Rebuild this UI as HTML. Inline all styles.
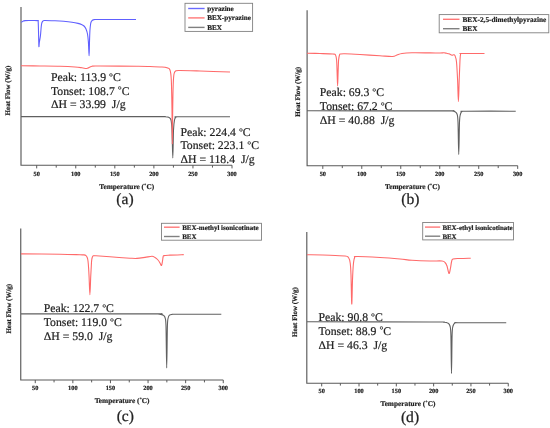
<!DOCTYPE html>
<html><head><meta charset="utf-8"><title>DSC curves</title>
<style>
html,body{margin:0;padding:0;background:#fff;}
body{width:550px;height:428px;overflow:hidden;}
svg{display:block;}
text{font-family:"Liberation Serif",serif;fill:#222;text-rendering:geometricPrecision;}
.tl{font-size:6.3px;font-weight:bold;stroke:#222;stroke-width:0.2px;text-anchor:middle;}
.at{font-size:7.3px;font-weight:bold;stroke:#222;stroke-width:0.2px;text-anchor:middle;}
.hf{font-size:7.0px;}
.dg{font-size:9.8px;}
.lb{font-size:15.6px;text-anchor:middle;stroke:#222;stroke-width:0.25px;}
.lg{font-size:7.2px;font-weight:bold;stroke:#222;stroke-width:0.2px;}
.an{font-size:11.75px;white-space:pre;stroke:#222;stroke-width:0.2px;}
</style></head>
<body>
<svg width="550" height="428" viewBox="0 0 550 428">
<rect width="550" height="428" fill="#fff"/>
<path d="M21,7 L21,165.2 L232.00,165.2" fill="none" stroke="#5a5a5a" stroke-width="1.15"/>
<path d="M36.70,165.2 L36.70,168.40 M56.23,165.2 L56.23,167.60 M75.76,165.2 L75.76,168.40 M95.29,165.2 L95.29,167.60 M114.82,165.2 L114.82,168.40 M134.35,165.2 L134.35,167.60 M153.88,165.2 L153.88,168.40 M173.41,165.2 L173.41,167.60 M192.94,165.2 L192.94,168.40 M212.47,165.2 L212.47,167.60 M232.00,165.2 L232.00,168.40" stroke="#5a5a5a" stroke-width="1"/>
<text x="36.70" y="175.6" class="tl">50</text>
<text x="75.76" y="175.6" class="tl">100</text>
<text x="114.82" y="175.6" class="tl">150</text>
<text x="153.88" y="175.6" class="tl">200</text>
<text x="192.94" y="175.6" class="tl">250</text>
<text x="232.00" y="175.6" class="tl">300</text>
<text x="126.7" y="189" class="at">Temperature (˚C)</text>
<text transform="translate(10.4,90.5) rotate(-90)" class="at hf">Heat Flow (W/g)</text>
<text x="125" y="204.3" class="lb">(a)</text>
<path d="M21.30,22.40 C21.58,22.20 22.38,21.50 23.00,21.20 C23.62,20.90 23.83,20.72 25.00,20.60 C26.17,20.48 27.90,20.50 30.00,20.50 C32.10,20.50 36.23,20.35 37.60,20.60 C38.97,20.85 38.03,19.60 38.20,22.00 C38.37,24.40 38.48,30.93 38.60,35.00 C38.72,39.07 38.77,45.23 38.90,46.40 C39.03,47.57 39.15,43.73 39.40,42.00 C39.65,40.27 40.10,38.50 40.40,36.00 C40.70,33.50 40.97,29.17 41.20,27.00 C41.43,24.83 41.50,24.00 41.80,23.00 C42.10,22.00 42.55,21.42 43.00,21.00 C43.45,20.58 42.50,20.53 44.50,20.50 C46.50,20.47 51.82,20.67 55.00,20.80 C58.18,20.93 60.77,21.07 63.60,21.30 C66.43,21.53 69.60,21.85 72.00,22.20 C74.40,22.55 76.33,22.97 78.00,23.40 C79.67,23.83 81.00,24.37 82.00,24.80 C83.00,25.23 83.33,25.30 84.00,26.00 C84.67,26.70 85.42,27.67 86.00,29.00 C86.58,30.33 87.10,31.83 87.50,34.00 C87.90,36.17 88.13,38.37 88.40,42.00 C88.67,45.63 88.92,55.80 89.10,55.80 C89.28,55.80 89.37,46.13 89.50,42.00 C89.63,37.87 89.72,34.00 89.90,31.00 C90.08,28.00 90.37,25.57 90.60,24.00 C90.83,22.43 90.98,22.23 91.30,21.60 C91.62,20.97 92.02,20.53 92.50,20.20 C92.98,19.87 92.95,19.72 94.20,19.60 C95.45,19.48 93.03,19.52 100.00,19.50 C106.97,19.48 130.00,19.50 136.00,19.50" fill="none" stroke="#6060ff" stroke-width="1.1" stroke-linejoin="round"/>
<path d="M21.00,116.60 C42.50,116.60 126.00,116.58 150.00,116.60 C174.00,116.62 161.83,116.55 165.00,116.70 C168.17,116.85 168.00,116.95 169.00,117.50 C170.00,118.05 170.50,117.92 171.00,120.00 C171.50,122.08 171.70,123.67 172.00,130.00 C172.30,136.33 172.55,158.00 172.80,158.00 C173.05,158.00 173.22,136.33 173.50,130.00 C173.78,123.67 174.08,122.12 174.50,120.00 C174.92,117.88 175.08,117.83 176.00,117.30 C176.92,116.77 171.00,116.88 180.00,116.80 C189.00,116.72 221.67,116.80 230.00,116.80" fill="none" stroke="#606060" stroke-width="1.1" stroke-linejoin="round"/>
<path d="M21.00,65.80 C24.17,65.83 33.50,65.92 40.00,66.00 C46.50,66.08 54.17,66.13 60.00,66.30 C65.83,66.47 71.33,66.75 75.00,67.00 C78.67,67.25 80.17,67.55 82.00,67.80 C83.83,68.05 85.00,68.47 86.00,68.50 C87.00,68.53 87.00,68.38 88.00,68.00 C89.00,67.62 90.00,66.53 92.00,66.20 C94.00,65.87 92.50,65.98 100.00,66.00 C107.50,66.02 128.67,66.22 137.00,66.30 C145.33,66.38 145.83,66.38 150.00,66.50 C154.17,66.62 159.17,66.78 162.00,67.00 C164.83,67.22 165.67,67.30 167.00,67.80 C168.33,68.30 169.28,67.97 170.00,70.00 C170.72,72.03 170.97,73.33 171.30,80.00 C171.63,86.67 171.83,99.33 172.00,110.00 C172.17,120.67 172.18,144.00 172.30,144.00 C172.42,144.00 172.55,119.83 172.70,110.00 C172.85,100.17 172.98,91.00 173.20,85.00 C173.42,79.00 173.58,76.33 174.00,74.00 C174.42,71.67 174.70,71.58 175.70,71.00 C176.70,70.42 175.95,70.50 180.00,70.50 C184.05,70.50 191.67,70.75 200.00,71.00 C208.33,71.25 225.00,71.83 230.00,72.00" fill="none" stroke="#ff6a6a" stroke-width="1.1" stroke-linejoin="round"/>
<rect x="185" y="3.3" width="67.60" height="28.10" fill="#fff" stroke="#808080" stroke-width="0.9"/>
<line x1="188.2" y1="8.5" x2="204.6" y2="8.5" stroke="#6a6aff" stroke-width="1.4"/>
<text x="207.2" y="10.90" class="lg" style="font-size:7.15px">pyrazine</text>
<line x1="188.2" y1="17.9" x2="204.6" y2="17.9" stroke="#ff7878" stroke-width="1.4"/>
<text x="207.2" y="20.30" class="lg" style="font-size:7.15px">BEX-pyrazine</text>
<line x1="188.2" y1="27.4" x2="204.6" y2="27.4" stroke="#808080" stroke-width="1.4"/>
<text x="207.2" y="29.80" class="lg" style="font-size:7.15px">BEX</text>
<text x="51.0" y="80.80" class="an">Peak: 113.9 <tspan class="dg" dy="-1.2">°</tspan><tspan dy="1.2">C</tspan></text>
<text x="51.0" y="94.50" class="an">Tonset: 108.7 <tspan class="dg" dy="-1.2">°</tspan><tspan dy="1.2">C</tspan></text>
<text x="51.0" y="108.20" class="an">ΔH = 33.99  J/g</text>
<text x="180.5" y="135.70" class="an">Peak: 224.4 <tspan class="dg" dy="-1.2">°</tspan><tspan dy="1.2">C</tspan></text>
<text x="180.5" y="149.40" class="an">Tonset: 223.1 <tspan class="dg" dy="-1.2">°</tspan><tspan dy="1.2">C</tspan></text>
<text x="180.5" y="163.10" class="an">ΔH = 118.4  J/g</text>
<path d="M307.1,10.2 L307.1,165.7 L517.70,165.7" fill="none" stroke="#5a5a5a" stroke-width="1.15"/>
<path d="M322.80,165.7 L322.80,168.90 M342.29,165.7 L342.29,168.10 M361.78,165.7 L361.78,168.90 M381.27,165.7 L381.27,168.10 M400.76,165.7 L400.76,168.90 M420.25,165.7 L420.25,168.10 M439.74,165.7 L439.74,168.90 M459.23,165.7 L459.23,168.10 M478.72,165.7 L478.72,168.90 M498.21,165.7 L498.21,168.10 M517.70,165.7 L517.70,168.90" stroke="#5a5a5a" stroke-width="1"/>
<text x="322.80" y="175.7" class="tl">50</text>
<text x="361.78" y="175.7" class="tl">100</text>
<text x="400.76" y="175.7" class="tl">150</text>
<text x="439.74" y="175.7" class="tl">200</text>
<text x="478.72" y="175.7" class="tl">250</text>
<text x="517.70" y="175.7" class="tl">300</text>
<text x="412.5" y="189" class="at">Temperature (˚C)</text>
<text transform="translate(299.5,91.8) rotate(-90)" class="at hf">Heat Flow (W/g)</text>
<text x="410.3" y="204" class="lb">(b)</text>
<path d="M307.00,110.80 C329.17,110.82 415.83,110.87 440.00,110.90 C464.17,110.93 449.50,110.85 452.00,111.00 C454.50,111.15 454.17,111.30 455.00,111.80 C455.83,112.30 456.50,112.30 457.00,114.00 C457.50,115.70 457.71,115.25 458.00,122.00 C458.29,128.75 458.50,154.50 458.75,154.50 C459.00,154.50 459.21,128.75 459.50,122.00 C459.79,115.25 460.08,115.73 460.50,114.00 C460.92,112.27 461.08,112.07 462.00,111.60 C462.92,111.13 457.04,111.27 466.00,111.20 C474.96,111.13 507.46,111.20 515.75,111.20" fill="none" stroke="#606060" stroke-width="1.1" stroke-linejoin="round"/>
<path d="M307.00,53.20 C309.17,53.25 315.67,53.37 320.00,53.50 C324.33,53.63 330.42,53.75 333.00,54.00 C335.58,54.25 334.90,54.00 335.50,55.00 C336.10,56.00 336.33,57.17 336.60,60.00 C336.87,62.83 336.93,67.67 337.10,72.00 C337.27,76.33 337.43,86.00 337.60,86.00 C337.77,86.00 337.93,76.33 338.10,72.00 C338.27,67.67 338.37,62.83 338.60,60.00 C338.83,57.17 339.18,56.00 339.50,55.00 C339.82,54.00 339.58,54.20 340.50,54.00 C341.42,53.80 341.75,53.72 345.00,53.80 C348.25,53.88 354.17,54.17 360.00,54.50 C365.83,54.83 374.58,55.47 380.00,55.80 C385.42,56.13 389.67,56.63 392.50,56.50 C395.33,56.37 395.42,55.50 397.00,55.00 C398.58,54.50 399.50,53.87 402.00,53.50 C404.50,53.13 407.33,52.90 412.00,52.80 C416.67,52.70 425.33,52.87 430.00,52.90 C434.67,52.93 437.67,53.02 440.00,53.00 C442.33,52.98 442.90,52.75 444.00,52.80 C445.10,52.85 445.77,53.13 446.60,53.30 C447.43,53.47 448.10,53.48 449.00,53.80 C449.90,54.12 451.25,55.03 452.00,55.20 C452.75,55.37 453.00,54.73 453.50,54.80 C454.00,54.87 454.50,54.40 455.00,55.60 C455.50,56.80 456.07,57.93 456.50,62.00 C456.93,66.07 457.28,73.38 457.60,80.00 C457.92,86.62 458.13,101.70 458.40,101.70 C458.67,101.70 458.93,86.95 459.20,80.00 C459.47,73.05 459.77,64.30 460.00,60.00 C460.23,55.70 460.27,55.28 460.60,54.20 C460.93,53.12 458.02,53.62 462.00,53.50 C465.98,53.38 480.75,53.50 484.50,53.50" fill="none" stroke="#ff6a6a" stroke-width="1.1" stroke-linejoin="round"/>
<rect x="439.2" y="14.6" width="109.60" height="18.20" fill="#fff" stroke="#808080" stroke-width="0.9"/>
<line x1="443" y1="19.3" x2="459.5" y2="19.3" stroke="#ff7878" stroke-width="1.4"/>
<text x="462.5" y="21.70" class="lg" style="font-size:7.3px">BEX-2,5-dimethylpyrazine</text>
<line x1="443" y1="28.7" x2="459.5" y2="28.7" stroke="#808080" stroke-width="1.4"/>
<text x="462.5" y="31.10" class="lg" style="font-size:7.3px">BEX</text>
<text x="319.8" y="96.20" class="an">Peak: 69.3 <tspan class="dg" dy="-1.2">°</tspan><tspan dy="1.2">C</tspan></text>
<text x="319.8" y="110.20" class="an">Tonset: 67.2 <tspan class="dg" dy="-1.2">°</tspan><tspan dy="1.2">C</tspan></text>
<text x="319.8" y="124.20" class="an">ΔH = 40.88  J/g</text>
<path d="M20.75,228.5 L20.75,380 L223.25,380" fill="none" stroke="#5a5a5a" stroke-width="1.15"/>
<path d="M35.25,380 L35.25,383.20 M54.05,380 L54.05,382.40 M72.85,380 L72.85,383.20 M91.65,380 L91.65,382.40 M110.45,380 L110.45,383.20 M129.25,380 L129.25,382.40 M148.05,380 L148.05,383.20 M166.85,380 L166.85,382.40 M185.65,380 L185.65,383.20 M204.45,380 L204.45,382.40 M223.25,380 L223.25,383.20" stroke="#5a5a5a" stroke-width="1"/>
<text x="35.25" y="390.0" class="tl">50</text>
<text x="72.85" y="390.0" class="tl">100</text>
<text x="110.45" y="390.0" class="tl">150</text>
<text x="148.05" y="390.0" class="tl">200</text>
<text x="185.65" y="390.0" class="tl">250</text>
<text x="223.25" y="390.0" class="tl">300</text>
<text x="122.1" y="403.2" class="at">Temperature (˚C)</text>
<text transform="translate(10.6,308.7) rotate(-90)" class="at hf">Heat Flow (W/g)</text>
<text x="125.3" y="421" class="lb">(c)</text>
<path d="M21.00,313.90 C42.50,313.90 127.17,313.88 150.00,313.90 C172.83,313.92 156.17,313.92 158.00,314.00 C159.83,314.08 160.08,314.17 161.00,314.40 C161.92,314.63 162.83,314.88 163.50,315.40 C164.17,315.92 164.58,315.73 165.00,317.50 C165.42,319.27 165.72,317.58 166.00,326.00 C166.28,334.42 166.47,368.00 166.70,368.00 C166.93,368.00 167.13,334.42 167.40,326.00 C167.67,317.58 167.90,319.33 168.30,317.50 C168.70,315.67 169.18,315.52 169.80,315.00 C170.42,314.48 170.30,314.53 172.00,314.40 C173.70,314.27 171.78,314.23 180.00,314.20 C188.22,314.17 214.42,314.20 221.30,314.20" fill="none" stroke="#606060" stroke-width="1.1" stroke-linejoin="round"/>
<path d="M21.00,253.90 C27.50,253.95 50.17,254.05 60.00,254.20 C69.83,254.35 76.00,254.68 80.00,254.80 C84.00,254.92 83.00,254.75 84.00,254.90 C85.00,255.05 85.45,255.22 86.00,255.70 C86.55,256.18 86.97,256.92 87.30,257.80 C87.63,258.68 87.78,259.30 88.00,261.00 C88.22,262.70 88.42,265.33 88.60,268.00 C88.78,270.67 88.88,272.55 89.10,277.00 C89.32,281.45 89.63,294.70 89.90,294.70 C90.17,294.70 90.48,281.45 90.70,277.00 C90.92,272.55 91.05,270.67 91.20,268.00 C91.35,265.33 91.42,262.80 91.60,261.00 C91.78,259.20 91.98,258.07 92.30,257.20 C92.62,256.33 92.88,256.03 93.50,255.80 C94.12,255.57 93.25,255.63 96.00,255.80 C98.75,255.97 104.33,256.40 110.00,256.80 C115.67,257.20 125.50,257.93 130.00,258.20 C134.50,258.47 134.50,258.53 137.00,258.40 C139.50,258.27 142.50,257.75 145.00,257.40 C147.50,257.05 150.33,256.28 152.00,256.30 C153.67,256.32 154.00,256.88 155.00,257.50 C156.00,258.12 157.17,259.08 158.00,260.00 C158.83,260.92 159.42,262.08 160.00,263.00 C160.58,263.92 161.08,265.83 161.50,265.50 C161.92,265.17 162.23,262.42 162.50,261.00 C162.77,259.58 162.85,257.90 163.10,257.00 C163.35,256.10 162.85,255.92 164.00,255.60 C165.15,255.28 166.71,255.27 170.00,255.10 C173.29,254.93 181.46,254.68 183.75,254.60" fill="none" stroke="#ff6a6a" stroke-width="1.1" stroke-linejoin="round"/>
<rect x="161.5" y="223.3" width="100.00" height="16.90" fill="#fff" stroke="#808080" stroke-width="0.9"/>
<line x1="164" y1="227.2" x2="179.6" y2="227.2" stroke="#ff7878" stroke-width="1.4"/>
<text x="182.2" y="229.60" class="lg" style="font-size:6.98px">BEX-methyl isonicotinate</text>
<line x1="164" y1="236.5" x2="179.6" y2="236.5" stroke="#808080" stroke-width="1.4"/>
<text x="182.2" y="238.90" class="lg" style="font-size:6.98px">BEX</text>
<text x="43.75" y="312.30" class="an">Peak: 122.7 <tspan class="dg" dy="-1.2">°</tspan><tspan dy="1.2">C</tspan></text>
<text x="43.75" y="326.30" class="an">Tonset: 119.0 <tspan class="dg" dy="-1.2">°</tspan><tspan dy="1.2">C</tspan></text>
<text x="43.75" y="340.30" class="an">ΔH = 59.0  J/g</text>
<path d="M306.8,232 L306.8,383.2 L508.25,383.2" fill="none" stroke="#5a5a5a" stroke-width="1.15"/>
<path d="M321.70,383.2 L321.70,386.40 M340.36,383.2 L340.36,385.60 M359.01,383.2 L359.01,386.40 M377.66,383.2 L377.66,385.60 M396.32,383.2 L396.32,386.40 M414.97,383.2 L414.97,385.60 M433.63,383.2 L433.63,386.40 M452.28,383.2 L452.28,385.60 M470.94,383.2 L470.94,386.40 M489.59,383.2 L489.59,385.60 M508.25,383.2 L508.25,386.40" stroke="#5a5a5a" stroke-width="1"/>
<text x="321.70" y="393.2" class="tl">50</text>
<text x="359.01" y="393.2" class="tl">100</text>
<text x="396.32" y="393.2" class="tl">150</text>
<text x="433.63" y="393.2" class="tl">200</text>
<text x="470.94" y="393.2" class="tl">250</text>
<text x="508.25" y="393.2" class="tl">300</text>
<text x="407.9" y="406" class="at">Temperature (˚C)</text>
<text transform="translate(296.8,312.1) rotate(-90)" class="at hf">Heat Flow (W/g)</text>
<text x="410" y="421.7" class="lb">(d)</text>
<path d="M307.00,321.80 C327.50,321.83 407.17,321.92 430.00,322.00 C452.83,322.08 441.00,322.10 444.00,322.30 C447.00,322.50 447.00,322.58 448.00,323.20 C449.00,323.82 449.52,324.03 450.00,326.00 C450.48,327.97 450.65,327.08 450.90,335.00 C451.15,342.92 451.30,373.50 451.50,373.50 C451.70,373.50 451.85,342.92 452.10,335.00 C452.35,327.08 452.52,328.00 453.00,326.00 C453.48,324.00 453.83,323.55 455.00,323.00 C456.17,322.45 451.46,322.75 460.00,322.70 C468.54,322.65 498.54,322.70 506.25,322.70" fill="none" stroke="#606060" stroke-width="1.1" stroke-linejoin="round"/>
<path d="M307.00,254.75 C310.83,254.82 323.67,254.99 330.00,255.20 C336.33,255.41 341.92,255.62 345.00,256.00 C348.08,256.38 347.63,256.33 348.50,257.50 C349.37,258.67 349.78,260.08 350.20,263.00 C350.62,265.92 350.74,268.17 351.00,275.00 C351.26,281.83 351.50,303.17 351.75,304.00 C352.00,304.83 352.24,286.50 352.50,280.00 C352.76,273.50 352.97,268.67 353.30,265.00 C353.63,261.33 353.88,259.42 354.50,258.00 C355.12,256.58 352.75,256.58 357.00,256.50 C361.25,256.42 372.83,257.08 380.00,257.50 C387.17,257.92 394.67,258.54 400.00,259.00 C405.33,259.46 407.00,259.92 412.00,260.25 C417.00,260.58 425.00,260.88 430.00,261.00 C435.00,261.12 439.50,260.75 442.00,261.00 C444.50,261.25 444.17,261.67 445.00,262.50 C445.83,263.33 446.33,264.17 447.00,266.00 C447.67,267.83 448.42,273.17 449.00,273.50 C449.58,273.83 450.08,269.92 450.50,268.00 C450.92,266.08 451.08,263.50 451.50,262.00 C451.92,260.50 451.58,259.58 453.00,259.00 C454.42,258.42 457.04,258.63 460.00,258.50 C462.96,258.37 468.96,258.25 470.75,258.20" fill="none" stroke="#ff6a6a" stroke-width="1.1" stroke-linejoin="round"/>
<rect x="422.7" y="222.5" width="90.80" height="17.40" fill="#fff" stroke="#808080" stroke-width="0.9"/>
<line x1="425" y1="227.1" x2="440.2" y2="227.1" stroke="#ff7878" stroke-width="1.4"/>
<text x="442.4" y="229.50" class="lg" style="font-size:6.93px">BEX-ethyl isonicotinate</text>
<line x1="425" y1="236.2" x2="440.2" y2="236.2" stroke="#808080" stroke-width="1.4"/>
<text x="442.4" y="238.60" class="lg" style="font-size:6.93px">BEX</text>
<text x="318.5" y="320.70" class="an">Peak: 90.8 <tspan class="dg" dy="-1.2">°</tspan><tspan dy="1.2">C</tspan></text>
<text x="318.5" y="334.65" class="an">Tonset: 88.9 <tspan class="dg" dy="-1.2">°</tspan><tspan dy="1.2">C</tspan></text>
<text x="318.5" y="348.60" class="an">ΔH = 46.3  J/g</text>
</svg>
</body></html>
